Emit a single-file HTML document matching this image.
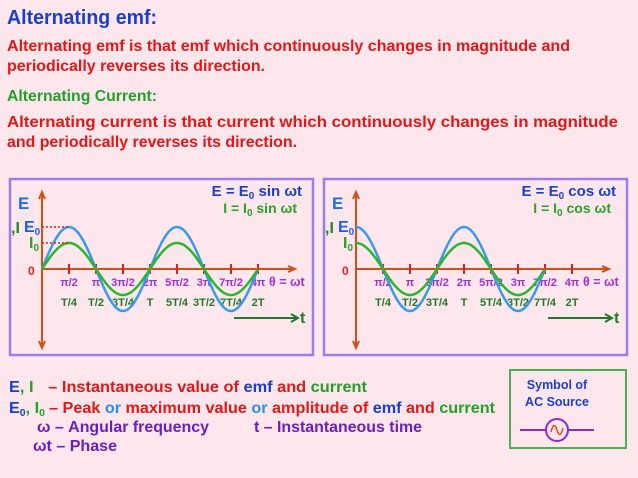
<!DOCTYPE html>
<html><head><meta charset="utf-8"><style>
body{margin:0;background:#fde6ec;}
svg{display:block;font-family:"Liberation Sans",Arial,sans-serif;font-weight:bold;}
</style></head><body>
<svg id="pg" width="638" height="478" viewBox="0 0 638 478">
<rect width="638" height="478" fill="#fde6ec"/>
<text x="7" y="24" font-size="20" fill="#1a3fd0" textLength="150" lengthAdjust="spacingAndGlyphs">Alternating emf:</text>
<text x="7" y="51" font-size="15.5" fill="#e01818" textLength="563" lengthAdjust="spacingAndGlyphs">Alternating emf is that emf  which continuously changes in magnitude and</text>
<text x="7" y="71" font-size="15.5" fill="#e01818" textLength="258" lengthAdjust="spacingAndGlyphs">periodically reverses its direction.</text>
<text x="7" y="101" font-size="15.5" fill="#22a02a" textLength="150" lengthAdjust="spacingAndGlyphs">Alternating Current:</text>
<text x="7" y="127" font-size="15.5" fill="#e01818" textLength="611" lengthAdjust="spacingAndGlyphs">Alternating current is that current  which continuously changes in magnitude</text>
<text x="7" y="147" font-size="15.5" fill="#e01818" textLength="290" lengthAdjust="spacingAndGlyphs">and periodically reverses its direction.</text>
<g id="charts"></g>
<g font-size="15.5">
<text x="9" y="392" textLength="358" lengthAdjust="spacingAndGlyphs"><tspan fill="#1a3fd0">E</tspan><tspan fill="#22a02a">, I</tspan><tspan fill="#e01818" dx="14">– Instantaneous value of </tspan><tspan fill="#1a3fd0">emf</tspan><tspan fill="#e01818"> and </tspan><tspan fill="#22a02a">current</tspan></text>
<text x="9" y="413" textLength="486" lengthAdjust="spacingAndGlyphs"><tspan fill="#1a3fd0">E</tspan><tspan fill="#1a3fd0" font-size="10" dy="3">0</tspan><tspan fill="#22a02a" dy="-3">, I</tspan><tspan fill="#22a02a" font-size="10" dy="3">0</tspan><tspan fill="#e01818" dy="-3" dx="4">– Peak </tspan><tspan fill="#2a90e0">or</tspan><tspan fill="#e01818"> maximum value </tspan><tspan fill="#2a90e0">or</tspan><tspan fill="#e01818"> amplitude of </tspan><tspan fill="#1a3fd0">emf</tspan><tspan fill="#e01818"> and </tspan><tspan fill="#22a02a">current</tspan></text>
<text x="37" y="432" fill="#6a1ec0" textLength="172" lengthAdjust="spacingAndGlyphs">ω – Angular frequency</text>
<text x="254" y="432" fill="#6a1ec0" textLength="168" lengthAdjust="spacingAndGlyphs">t – Instantaneous time</text>
<text x="33" y="451" fill="#6a1ec0" textLength="84" lengthAdjust="spacingAndGlyphs">ωt – Phase</text>
</g>
<g>
<rect x="510" y="370" width="116" height="78" fill="#fde6ec" stroke="#4caf50" stroke-width="2"/>
<text x="557" y="389" font-size="12.5" fill="#1a3fd0" text-anchor="middle">Symbol of</text>
<text x="557" y="406" font-size="12.5" fill="#1a3fd0" text-anchor="middle">AC Source</text>
<line x1="520" y1="430" x2="546" y2="430" stroke="#8a2ad0" stroke-width="2"/>
<line x1="568" y1="430" x2="594" y2="430" stroke="#8a2ad0" stroke-width="2"/>
<circle cx="557" cy="430" r="11" fill="none" stroke="#8a2ad0" stroke-width="2"/>
<path d="M551,432 Q554,420 557,430 Q560,440 563,428" fill="none" stroke="#e05020" stroke-width="1.5"/>
</g>
</svg>
<script>
const thetaLabels=["π/2","π","3π/2","2π","5π/2","3π","7π/2","4π"];
const timeLabels=["T/4","T/2","3T/4","T","5T/4","3T/2","7T/4","2T"];
const emfAmp=[42,42];
const curAmp=[26,26];
const phases=[0,90];
const endTicks=[8,7];
const fnNames=["sin","cos"];
const NS="http://www.w3.org/2000/svg";
const root=document.getElementById('charts');
function mk(tag,at,par){const e=document.createElementNS(NS,tag);for(const k in at)e.setAttribute(k,at[k]);(par||root).appendChild(e);return e;}
[{ox:10,ax:42},{ox:324,ax:356}].forEach((p,ci)=>{
 const g=mk('g',{});
 
 
 const y0=269,step=27;
 const xS=th=>p.ax+th/90*step;
 const yS=v=>y0-v;
 const bx=mk('rect',{x:p.ox,y:179,width:303,height:176,fill:'#fde6ec',stroke:'#9b7fe6','stroke-width':2.5},g);
 
 
 const ya=mk('path',{d:`M${p.ax},194V346M${p.ax-3},199L${p.ax},192L${p.ax+3},199M${p.ax-3},341L${p.ax},348L${p.ax+3},341`,stroke:'#d0501a','stroke-width':2,fill:'none'},g);
 
 
 const xa=mk('path',{d:`M${p.ax},${y0}H${p.ax+251}M${p.ax+246},${y0-3}L${p.ax+253},${y0}L${p.ax+246},${y0+3}`,stroke:'#d0501a','stroke-width':2,fill:'none'},g);
 
 
 thetaLabels.forEach((l,i)=>{
  const x=xS((i+1)*90);
  const t=mk('line',{x1:x,y1:y0-5,x2:x,y2:y0+5,stroke:'#e02020','stroke-width':2},g);
  
  
  const tl=mk('text',{x:x,y:y0+17,'font-size':11,fill:'#a030d0','text-anchor':'middle'},g);tl.textContent=l;
  
  
  const tt=mk('text',{x:x,y:y0+37,'font-size':11,fill:'#1e7a2a','text-anchor':'middle'},g);tt.textContent=timeLabels[i];
  
  
 });
 const eq=mk('text',{x:xS(8*90)+11,y:y0+17,'font-size':12.5,fill:'#a030d0'},g);eq.textContent='θ = ωt';
 
 
 const z=mk('text',{x:p.ax-14,y:y0+6,'font-size':12,fill:'#e02020'},g);z.textContent='0';
 
 
 [[emfAmp[ci],'#3a9ae8'],[curAmp[ci],'#2ab82a']].forEach(([A,c],si)=>{
  let d='';const end=endTicks[ci]*90;
  for(let th=0;th<=end;th+=3){d+=(th?'L':'M')+xS(th).toFixed(1)+','+yS(A*Math.sin((th+phases[ci])*Math.PI/180)).toFixed(1);}
  const pa=mk('path',{d,fill:'none',stroke:c,'stroke-width':2.5},g);
  
  
  if(ci===0){const dl=mk('line',{x1:p.ax,y1:yS(A),x2:xS(90),y2:yS(A),stroke:'#e02020','stroke-width':1.5,'stroke-dasharray':'2,2'},g);
   
   }
 });
 const lab=(txt,x,y,c,fs,nm,anchor)=>{const t=mk('text',{x,y,'font-size':fs,fill:c,'text-anchor':anchor||'start'},g);t.innerHTML=txt;};
 lab('E',p.ox+8,209,'#1a70e0',17,'y-label-e');
 lab(',I',p.ox+1,233,'#1a8a2a',16,'y-label-i');
 lab('E<tspan font-size="10" dy="3">0</tspan>',p.ax-18,yS(emfAmp[ci])+5,'#1a60e0',16,'e0-label');
 lab('I<tspan font-size="10" dy="3">0</tspan>',p.ax-13,yS(curAmp[ci])+5,'#2aa02a',16,'i0-label');
 lab(`E  = E<tspan font-size="10" dy="3">0</tspan><tspan dy="-3"> ${fnNames[ci]} ωt</tspan>`,p.ox+292,196,'#1a3fd0',15,'emf-equation','end');
 lab(`I  = I<tspan font-size="10" dy="3">0</tspan><tspan dy="-3"> ${fnNames[ci]} ωt</tspan>`,p.ox+287,213,'#2aa02a',14,'current-equation','end');
 const ta=mk('path',{d:`M${p.ox+224},318H${p.ox+286}M${p.ox+281},314L${p.ox+288},318L${p.ox+281},322`,stroke:'#1e7a2a','stroke-width':2,fill:'none'},g);
 
 
 lab('t',p.ox+290,323,'#1e7a2a',16,'t-label');
});
</script>
</body></html>
